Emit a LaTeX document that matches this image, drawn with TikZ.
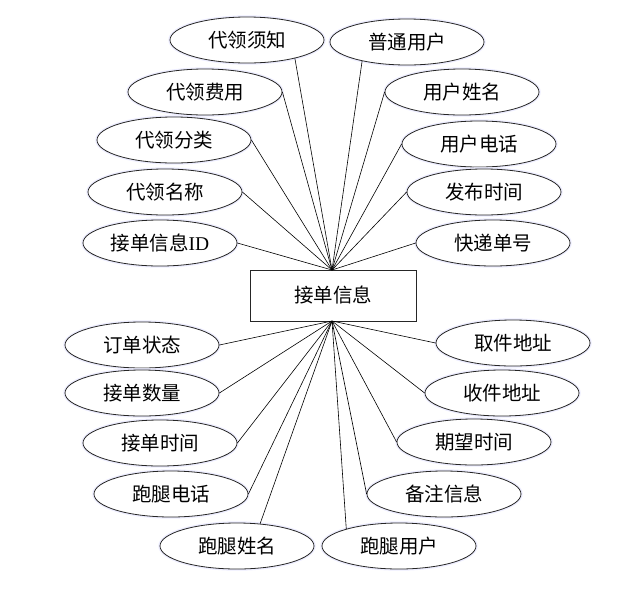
\documentclass[tikz,border=0pt]{standalone}
\usepackage{fontspec}
\setmainfont{Liberation Serif}
\newfontfamily\cjk{Noto Sans CJK SC}
\usetikzlibrary{shapes.geometric}
\tikzset{
  attr/.style={ellipse, draw=black!85, line width=0.8pt, fill=white,
    minimum width=154pt, minimum height=46pt, inner sep=0pt,
    font=\cjk\fontsize{19.5}{22}\selectfont,
    preaction={draw=blue!7, line width=3.4pt}},
  ent/.style={rectangle, draw=black!85, line width=0.8pt, fill=white,
    minimum width=166pt, minimum height=51pt, inner sep=0pt,
    font=\cjk\fontsize{19.5}{22}\selectfont},
  link/.style={draw=black, line width=0.6pt}
}
\begin{document}
\begin{tikzpicture}[x=1pt,y=-1pt]
\useasboundingbox (0,0) rectangle (640,590);
\node[ent] (e) at (333,295.5) {接单信息};
\coordinate (top) at (332,270);
\coordinate (bot) at (332,321);
\node[attr] (a1) at (247,40) {代领须知};
\node[attr] (a2) at (407,42) {普通用户};
\node[attr] (a3) at (205,92) {代领费用};
\node[attr] (a4) at (462,92) {用户姓名};
\node[attr] (a5) at (174,140) {代领分类};
\node[attr] (a6) at (479,144) {用户电话};
\node[attr] (a7) at (165,192) {代领名称};
\node[attr] (a8) at (484,192) {发布时间};
\node[attr] (a9) at (160,243) {接单信息{\rmfamily ID}};
\node[attr] (a10) at (493,243) {快递单号};
\node[attr] (b1) at (142,345) {订单状态};
\node[attr] (b2) at (513,343) {取件地址};
\node[attr] (b3) at (142,393) {接单数量};
\node[attr] (b4) at (502,393) {收件地址};
\node[attr] (b5) at (160,443) {接单时间};
\node[attr] (b6) at (474,442) {期望时间};
\node[attr] (b7) at (171,494) {跑腿电话};
\node[attr] (b8) at (444,494) {备注信息};
\node[attr] (b9) at (237,546) {跑腿姓名};
\node[attr] (b10) at (399,546) {跑腿用户};
\draw[link] (a1.-21) -- (top);
\draw[link] (a2.-157) -- (top);
\foreach \n in {a3,a5,a7,a9}
  \draw[link] (\n.east) -- (top);
\foreach \n in {a4,a6,a8,a10}
  \draw[link] (\n.west) -- (top);
\foreach \n in {b1,b3,b5,b7}
  \draw[link] (\n.east) -- (bot);
\foreach \n in {b2,b4,b6,b8}
  \draw[link] (\n.west) -- (bot);
\draw[link] (b9.44) -- (bot);
\draw[link] (b10.162) -- (bot);
\end{tikzpicture}
\end{document}
